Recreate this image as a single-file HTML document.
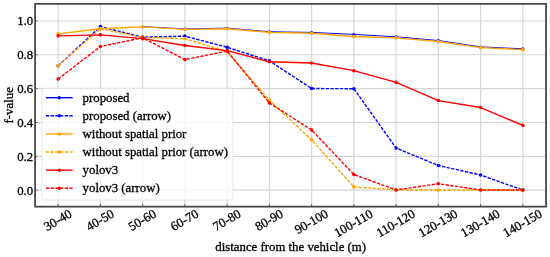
<!DOCTYPE html>
<html><head><meta charset="utf-8"><title>f-value vs distance</title>
<style>
html,body{margin:0;padding:0;background:#fff;}
body{width:550px;height:257px;overflow:hidden;}
svg{display:block;}
text{font-family:"Liberation Serif",serif;fill:#000;stroke:#000;stroke-width:0.3px;}
</style></head><body>
<svg width="550" height="257" viewBox="0 0 550 257">
<rect width="550" height="257" fill="#ffffff"/>
<g stroke="#d6d6d6" stroke-width="1.15" fill="none">
<line x1="58.15" y1="3.85" x2="58.15" y2="206.65"/>
<line x1="100.39" y1="3.85" x2="100.39" y2="206.65"/>
<line x1="142.64" y1="3.85" x2="142.64" y2="206.65"/>
<line x1="184.88" y1="3.85" x2="184.88" y2="206.65"/>
<line x1="227.13" y1="3.85" x2="227.13" y2="206.65"/>
<line x1="269.38" y1="3.85" x2="269.38" y2="206.65"/>
<line x1="311.62" y1="3.85" x2="311.62" y2="206.65"/>
<line x1="353.86" y1="3.85" x2="353.86" y2="206.65"/>
<line x1="396.11" y1="3.85" x2="396.11" y2="206.65"/>
<line x1="438.35" y1="3.85" x2="438.35" y2="206.65"/>
<line x1="480.60" y1="3.85" x2="480.60" y2="206.65"/>
<line x1="522.85" y1="3.85" x2="522.85" y2="206.65"/>
<line x1="35.1" y1="190.15" x2="546.05" y2="190.15"/>
<line x1="35.1" y1="156.31" x2="546.05" y2="156.31"/>
<line x1="35.1" y1="122.47" x2="546.05" y2="122.47"/>
<line x1="35.1" y1="88.63" x2="546.05" y2="88.63"/>
<line x1="35.1" y1="54.79" x2="546.05" y2="54.79"/>
<line x1="35.1" y1="20.95" x2="546.05" y2="20.95"/>
</g>
<clipPath id="c"><rect x="35.1" y="3.85" width="510.94999999999993" height="202.8"/></clipPath>
<g clip-path="url(#c)">
<polyline points="142.64,26.70 184.88,28.90 227.13,28.10 269.38,31.75 311.62,32.40 353.86,34.40 396.11,36.80 438.35,40.50 480.60,46.90 522.85,48.80" fill="none" stroke="#0000ff" stroke-width="1.0" stroke-linejoin="round"/>
<circle cx="142.64" cy="26.95" r="1.2" fill="#0000ff"/>
<circle cx="184.88" cy="29.15" r="1.7" fill="#0000ff"/>
<circle cx="227.13" cy="28.35" r="1.7" fill="#0000ff"/>
<circle cx="269.38" cy="32.00" r="1.7" fill="#0000ff"/>
<circle cx="311.62" cy="32.65" r="1.7" fill="#0000ff"/>
<circle cx="353.86" cy="34.65" r="1.7" fill="#0000ff"/>
<circle cx="396.11" cy="37.05" r="1.7" fill="#0000ff"/>
<circle cx="438.35" cy="40.75" r="1.7" fill="#0000ff"/>
<circle cx="480.60" cy="47.15" r="1.7" fill="#0000ff"/>
<circle cx="522.85" cy="49.05" r="1.7" fill="#0000ff"/>
<polyline points="58.15,65.80 100.39,26.65 142.64,37.15 184.88,36.15 227.13,47.25 269.38,60.81 311.62,88.52 353.86,88.72 396.11,148.01 438.35,165.50 480.60,175.00 522.85,190.00" fill="none" stroke="#0000ff" stroke-width="1.4" stroke-linejoin="round" stroke-dasharray="3.3 1.4"/>
<circle cx="58.15" cy="65.80" r="1.8" fill="#0000ff"/>
<circle cx="100.39" cy="26.65" r="1.8" fill="#0000ff"/>
<circle cx="142.64" cy="37.15" r="1.8" fill="#0000ff"/>
<circle cx="184.88" cy="36.15" r="1.8" fill="#0000ff"/>
<circle cx="227.13" cy="47.25" r="1.8" fill="#0000ff"/>
<circle cx="269.38" cy="60.81" r="1.8" fill="#0000ff"/>
<circle cx="311.62" cy="88.52" r="1.8" fill="#0000ff"/>
<circle cx="353.86" cy="88.72" r="1.8" fill="#0000ff"/>
<circle cx="396.11" cy="148.01" r="1.8" fill="#0000ff"/>
<circle cx="438.35" cy="165.50" r="1.8" fill="#0000ff"/>
<circle cx="480.60" cy="175.00" r="1.8" fill="#0000ff"/>
<circle cx="522.85" cy="190.00" r="1.8" fill="#0000ff"/>
<polyline points="58.15,33.85 100.39,28.75 142.64,26.85 184.88,29.35 227.13,28.75 269.38,32.35 311.62,33.25 353.86,36.55 396.11,37.85 438.35,41.55 480.60,47.65 522.85,49.65" fill="none" stroke="#ffa500" stroke-width="1.4" stroke-linejoin="round"/>
<circle cx="58.15" cy="33.85" r="1.8" fill="#ffa500"/>
<circle cx="100.39" cy="28.75" r="1.8" fill="#ffa500"/>
<circle cx="142.64" cy="26.85" r="1.8" fill="#ffa500"/>
<circle cx="184.88" cy="29.35" r="1.8" fill="#ffa500"/>
<circle cx="227.13" cy="28.75" r="1.8" fill="#ffa500"/>
<circle cx="269.38" cy="32.35" r="1.8" fill="#ffa500"/>
<circle cx="311.62" cy="33.25" r="1.8" fill="#ffa500"/>
<circle cx="353.86" cy="36.55" r="1.8" fill="#ffa500"/>
<circle cx="396.11" cy="37.85" r="1.8" fill="#ffa500"/>
<circle cx="438.35" cy="41.55" r="1.8" fill="#ffa500"/>
<circle cx="480.60" cy="47.65" r="1.8" fill="#ffa500"/>
<circle cx="522.85" cy="49.65" r="1.8" fill="#ffa500"/>
<polyline points="58.15,65.80 100.39,28.75 142.64,37.35 184.88,38.65 227.13,51.65 269.38,100.27 311.62,139.84 353.86,186.90 396.11,189.90 438.35,190.00 480.60,190.00 522.85,190.00" fill="none" stroke="#ffa500" stroke-width="1.4" stroke-linejoin="round" stroke-dasharray="3.3 1.4"/>
<circle cx="58.15" cy="65.80" r="1.8" fill="#ffa500"/>
<circle cx="100.39" cy="28.75" r="1.8" fill="#ffa500"/>
<circle cx="142.64" cy="37.35" r="1.8" fill="#ffa500"/>
<circle cx="184.88" cy="38.65" r="1.8" fill="#ffa500"/>
<circle cx="227.13" cy="51.65" r="1.8" fill="#ffa500"/>
<circle cx="269.38" cy="100.27" r="1.8" fill="#ffa500"/>
<circle cx="311.62" cy="139.84" r="1.8" fill="#ffa500"/>
<circle cx="353.86" cy="186.90" r="1.8" fill="#ffa500"/>
<circle cx="396.11" cy="189.90" r="1.8" fill="#ffa500"/>
<circle cx="438.35" cy="190.00" r="1.8" fill="#ffa500"/>
<circle cx="480.60" cy="190.00" r="1.8" fill="#ffa500"/>
<circle cx="522.85" cy="190.00" r="1.8" fill="#ffa500"/>
<polyline points="58.15,35.85 100.39,34.85 142.64,38.65 184.88,45.45 227.13,50.65 269.38,61.81 311.62,63.01 353.86,70.68 396.11,82.34 438.35,100.57 480.60,107.55 522.85,125.39" fill="none" stroke="#ff0000" stroke-width="1.4" stroke-linejoin="round"/>
<circle cx="58.15" cy="35.85" r="1.8" fill="#ff0000"/>
<circle cx="100.39" cy="34.85" r="1.8" fill="#ff0000"/>
<circle cx="142.64" cy="38.65" r="1.8" fill="#ff0000"/>
<circle cx="184.88" cy="45.45" r="1.8" fill="#ff0000"/>
<circle cx="227.13" cy="50.65" r="1.8" fill="#ff0000"/>
<circle cx="269.38" cy="61.81" r="1.8" fill="#ff0000"/>
<circle cx="311.62" cy="63.01" r="1.8" fill="#ff0000"/>
<circle cx="353.86" cy="70.68" r="1.8" fill="#ff0000"/>
<circle cx="396.11" cy="82.34" r="1.8" fill="#ff0000"/>
<circle cx="438.35" cy="100.57" r="1.8" fill="#ff0000"/>
<circle cx="480.60" cy="107.55" r="1.8" fill="#ff0000"/>
<circle cx="522.85" cy="125.39" r="1.8" fill="#ff0000"/>
<polyline points="58.15,79.05 100.39,46.45 142.64,37.85 184.88,59.62 227.13,51.05 269.38,102.97 311.62,129.97 353.86,174.50 396.11,190.00 438.35,183.70 480.60,190.00 522.85,190.00" fill="none" stroke="#ff0000" stroke-width="1.4" stroke-linejoin="round" stroke-dasharray="3.3 1.4"/>
<circle cx="58.15" cy="79.05" r="1.8" fill="#ff0000"/>
<circle cx="100.39" cy="46.45" r="1.8" fill="#ff0000"/>
<circle cx="142.64" cy="37.85" r="1.8" fill="#ff0000"/>
<circle cx="184.88" cy="59.62" r="1.8" fill="#ff0000"/>
<circle cx="227.13" cy="51.05" r="1.8" fill="#ff0000"/>
<circle cx="269.38" cy="102.97" r="1.8" fill="#ff0000"/>
<circle cx="311.62" cy="129.97" r="1.8" fill="#ff0000"/>
<circle cx="353.86" cy="174.50" r="1.8" fill="#ff0000"/>
<circle cx="396.11" cy="190.00" r="1.8" fill="#ff0000"/>
<circle cx="438.35" cy="183.70" r="1.8" fill="#ff0000"/>
<circle cx="480.60" cy="190.00" r="1.8" fill="#ff0000"/>
<circle cx="522.85" cy="190.00" r="1.8" fill="#ff0000"/>
</g>
<rect x="41.9" y="88.2" width="191.1" height="111.8" rx="1.5" fill="#ffffff" fill-opacity="0.8" stroke="#cccccc" stroke-opacity="0.6" stroke-width="0.8"/>
<line x1="45.9" y1="97.70" x2="72.7" y2="97.70" stroke="#0000ff" stroke-width="1.4"/>
<circle cx="59.3" cy="97.70" r="1.8" fill="#0000ff"/>
<text x="82.6" y="101.80" font-size="12.8">proposed</text>
<line x1="45.9" y1="115.82" x2="72.7" y2="115.82" stroke="#0000ff" stroke-width="1.4" stroke-dasharray="3.3 1.4"/>
<circle cx="59.3" cy="115.82" r="1.8" fill="#0000ff"/>
<text x="82.6" y="119.92" font-size="12.8">proposed (arrow)</text>
<line x1="45.9" y1="133.94" x2="72.7" y2="133.94" stroke="#ffa500" stroke-width="1.4"/>
<circle cx="59.3" cy="133.94" r="1.8" fill="#ffa500"/>
<text x="82.6" y="138.04" font-size="12.8">without spatial prior</text>
<line x1="45.9" y1="152.06" x2="72.7" y2="152.06" stroke="#ffa500" stroke-width="1.4" stroke-dasharray="3.3 1.4"/>
<circle cx="59.3" cy="152.06" r="1.8" fill="#ffa500"/>
<text x="82.6" y="156.16" font-size="12.8">without spatial prior (arrow)</text>
<line x1="45.9" y1="170.18" x2="72.7" y2="170.18" stroke="#ff0000" stroke-width="1.4"/>
<circle cx="59.3" cy="170.18" r="1.8" fill="#ff0000"/>
<text x="82.6" y="174.28" font-size="12.8">yolov3</text>
<line x1="45.9" y1="188.30" x2="72.7" y2="188.30" stroke="#ff0000" stroke-width="1.4" stroke-dasharray="3.3 1.4"/>
<circle cx="59.3" cy="188.30" r="1.8" fill="#ff0000"/>
<text x="82.6" y="192.40" font-size="12.8">yolov3 (arrow)</text>
<g stroke="#484848" stroke-width="0.8">
<line x1="58.15" y1="206.65" x2="58.15" y2="204.05"/>
<line x1="100.39" y1="206.65" x2="100.39" y2="204.05"/>
<line x1="142.64" y1="206.65" x2="142.64" y2="204.05"/>
<line x1="184.88" y1="206.65" x2="184.88" y2="204.05"/>
<line x1="227.13" y1="206.65" x2="227.13" y2="204.05"/>
<line x1="269.38" y1="206.65" x2="269.38" y2="204.05"/>
<line x1="311.62" y1="206.65" x2="311.62" y2="204.05"/>
<line x1="353.86" y1="206.65" x2="353.86" y2="204.05"/>
<line x1="396.11" y1="206.65" x2="396.11" y2="204.05"/>
<line x1="438.35" y1="206.65" x2="438.35" y2="204.05"/>
<line x1="480.60" y1="206.65" x2="480.60" y2="204.05"/>
<line x1="522.85" y1="206.65" x2="522.85" y2="204.05"/>
<line x1="35.1" y1="190.15" x2="37.7" y2="190.15"/>
<line x1="35.1" y1="156.31" x2="37.7" y2="156.31"/>
<line x1="35.1" y1="122.47" x2="37.7" y2="122.47"/>
<line x1="35.1" y1="88.63" x2="37.7" y2="88.63"/>
<line x1="35.1" y1="54.79" x2="37.7" y2="54.79"/>
<line x1="35.1" y1="20.95" x2="37.7" y2="20.95"/>
</g>
<rect x="35.1" y="3.85" width="510.94999999999993" height="202.8" fill="none" stroke="#484848" stroke-width="1.8"/>
<text transform="translate(33.2,194.60) scale(1,1.0)" x="0" y="0" font-size="12.8" text-anchor="end">0.0</text>
<text transform="translate(33.2,160.76) scale(1,1.0)" x="0" y="0" font-size="12.8" text-anchor="end">0.2</text>
<text transform="translate(33.2,126.92) scale(1,1.0)" x="0" y="0" font-size="12.8" text-anchor="end">0.4</text>
<text transform="translate(33.2,93.08) scale(1,1.0)" x="0" y="0" font-size="12.8" text-anchor="end">0.6</text>
<text transform="translate(33.2,59.24) scale(1,1.0)" x="0" y="0" font-size="12.8" text-anchor="end">0.8</text>
<text transform="translate(33.2,25.40) scale(1,1.0)" x="0" y="0" font-size="12.8" text-anchor="end">1.0</text>
<text transform="translate(57.75,220.01) rotate(-30)" x="0" y="4.22" font-size="12.8" text-anchor="middle">30-40</text>
<text transform="translate(99.99,220.01) rotate(-30)" x="0" y="4.22" font-size="12.8" text-anchor="middle">40-50</text>
<text transform="translate(142.24,220.01) rotate(-30)" x="0" y="4.22" font-size="12.8" text-anchor="middle">50-60</text>
<text transform="translate(184.48,220.01) rotate(-30)" x="0" y="4.22" font-size="12.8" text-anchor="middle">60-70</text>
<text transform="translate(226.73,220.01) rotate(-30)" x="0" y="4.22" font-size="12.8" text-anchor="middle">70-80</text>
<text transform="translate(268.98,220.01) rotate(-30)" x="0" y="4.22" font-size="12.8" text-anchor="middle">80-90</text>
<text transform="translate(311.22,221.61) rotate(-30)" x="0" y="4.22" font-size="12.8" text-anchor="middle">90-100</text>
<text transform="translate(353.46,223.21) rotate(-30)" x="0" y="4.22" font-size="12.8" text-anchor="middle">100-110</text>
<text transform="translate(395.71,223.21) rotate(-30)" x="0" y="4.22" font-size="12.8" text-anchor="middle">110-120</text>
<text transform="translate(437.95,223.21) rotate(-30)" x="0" y="4.22" font-size="12.8" text-anchor="middle">120-130</text>
<text transform="translate(480.20,223.21) rotate(-30)" x="0" y="4.22" font-size="12.8" text-anchor="middle">130-140</text>
<text transform="translate(522.45,223.21) rotate(-30)" x="0" y="4.22" font-size="12.8" text-anchor="middle">140-150</text>
<text x="290.7" y="250.8" font-size="12.8" text-anchor="middle">distance from the vehicle (m)</text>
<text transform="translate(13.2,105.3) rotate(-90)" font-size="12.8" text-anchor="middle">f-value</text>
</svg></body></html>
